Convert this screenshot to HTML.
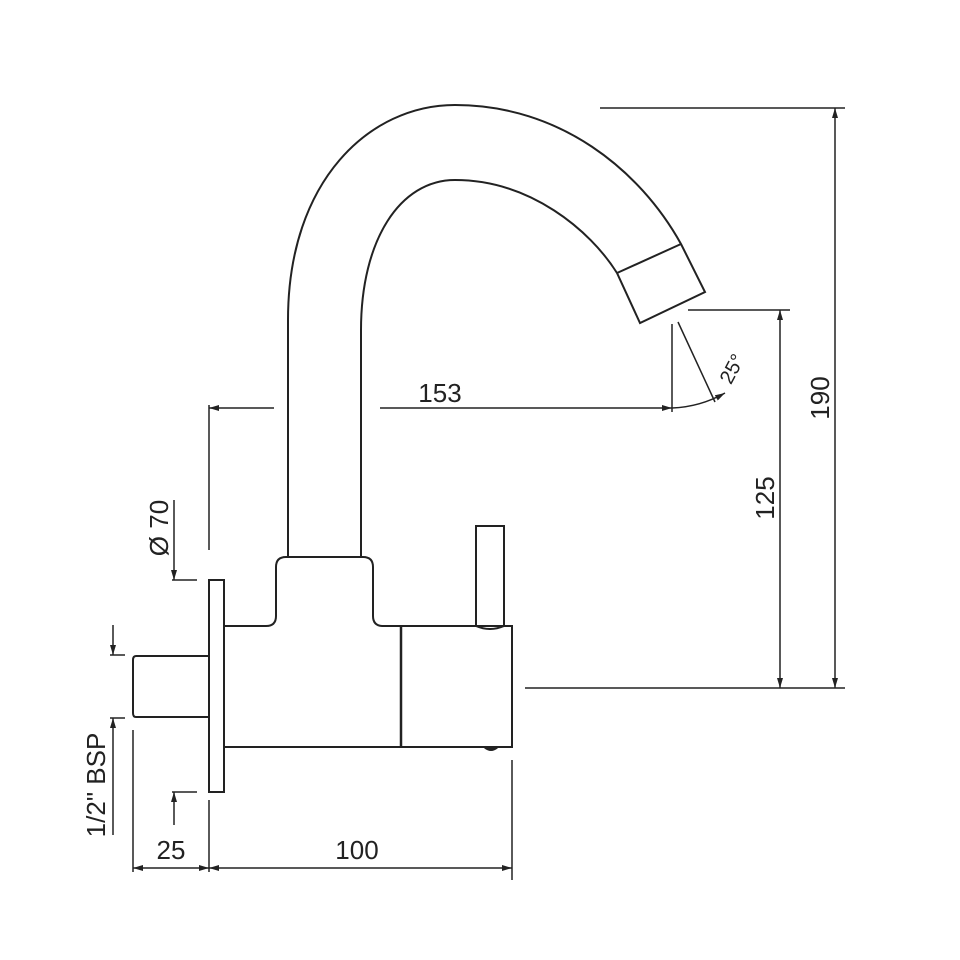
<!DOCTYPE html>
<html><head><style>body{margin:0;background:#fff}svg{display:block}</style></head><body>
<svg width="960" height="960" viewBox="0 0 960 960" xmlns="http://www.w3.org/2000/svg" font-family="Liberation Sans, sans-serif">
<defs>
<marker id="a" viewBox="0 0 10 6" refX="10" refY="3" markerWidth="10" markerHeight="6" orient="auto-start-reverse" markerUnits="userSpaceOnUse"><path d="M0,0 L10,3 L0,6 Z" fill="#222"/></marker>
</defs>
<g fill="none" stroke="#222" stroke-width="2">
<!-- spout -->
<path d="M288,557 V320 C288,180 370,105 455,105 C560,105 640,170 681,244 L705,292 L640,323 L617,273 C590,230 530,180 455,180 C400,180 361,240 361,330 V557"/>
<line x1="617" y1="273" x2="681" y2="244"/>
<!-- neck -->
<path d="M224,626 H266 Q276,626 276,616 V567 Q276,557 286,557 H363 Q373,557 373,567 V616 Q373,626 383,626 H512 V747 H224"/>
<line x1="401" y1="626" x2="401" y2="747" stroke-width="2.5"/>
<!-- flange -->
<rect x="209" y="580" width="15" height="212"/>
<!-- pipe -->
<path d="M209,656 H136 Q133,656 133,660 V713 Q133,717 136,717 H209"/>
<!-- handle -->
<path d="M476,626 V526 H504 V626 Q490,632 476,626"/>
<path d="M485,747 Q491,752 497,747" stroke-width="3"/>
</g>
<g fill="none" stroke="#222" stroke-width="1.5">
<!-- 25/100 -->
<line x1="133" y1="730" x2="133" y2="872"/>
<line x1="209" y1="800" x2="209" y2="872"/>
<line x1="512" y1="760" x2="512" y2="880"/>
<line x1="133" y1="868" x2="209" y2="868" marker-start="url(#a)" marker-end="url(#a)"/>
<line x1="209" y1="868" x2="512" y2="868" marker-start="url(#a)" marker-end="url(#a)"/>
<!-- BSP -->
<line x1="110" y1="655" x2="125" y2="655"/>
<line x1="113" y1="625" x2="113" y2="655" marker-end="url(#a)"/>
<line x1="110" y1="718" x2="125" y2="718"/>
<line x1="113" y1="835" x2="113" y2="718" marker-end="url(#a)"/>
<!-- Ø70 -->
<line x1="172" y1="580" x2="197" y2="580"/>
<line x1="174" y1="500" x2="174" y2="580" marker-end="url(#a)"/>
<line x1="172" y1="792" x2="197" y2="792"/>
<line x1="174" y1="825" x2="174" y2="792" marker-end="url(#a)"/>
<!-- 153 -->
<line x1="209" y1="405" x2="209" y2="550"/>
<line x1="274" y1="408" x2="209" y2="408" marker-end="url(#a)"/>
<line x1="380" y1="408" x2="672" y2="408" marker-end="url(#a)"/>
<!-- angle -->
<line x1="672" y1="324" x2="672" y2="412"/>
<line x1="678" y1="322" x2="715" y2="402"/>
<path d="M672,408 Q700,407 725,393" marker-end="url(#a)"/>
<!-- right dims -->
<line x1="600" y1="108" x2="845" y2="108"/>
<line x1="525" y1="688" x2="845" y2="688"/>
<line x1="688" y1="310" x2="790" y2="310"/>
<line x1="835" y1="108" x2="835" y2="688" marker-start="url(#a)" marker-end="url(#a)"/>
<line x1="780" y1="310" x2="780" y2="688" marker-start="url(#a)" marker-end="url(#a)"/>
</g>
<g fill="#222" font-size="26">
<text x="171" y="868" text-anchor="middle" dy="-9">25</text>
<text x="357" y="868" text-anchor="middle" dy="-9">100</text>
<text x="440" y="402" text-anchor="middle">153</text>
<text transform="translate(105,785) rotate(-90)" text-anchor="middle">1/2" BSP</text>
<text transform="translate(168,528) rotate(-90)" text-anchor="middle">Ø 70</text>
<text transform="translate(829,398) rotate(-90)" text-anchor="middle">190</text>
<text transform="translate(774,498) rotate(-90)" text-anchor="middle">125</text>
<text transform="translate(738,372) rotate(-62)" text-anchor="middle" font-size="20">25°</text>
</g>
</svg>
</body></html>
